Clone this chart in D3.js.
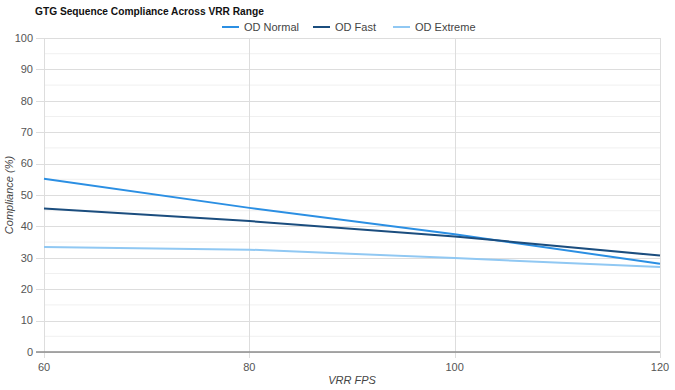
<!DOCTYPE html>
<html>
<head>
<meta charset="utf-8">
<script src="https://cdn.jsdelivr.net/npm/d3@7"></script>
<style>
  body { margin: 0; background: #fff; }
  text { font-family: "Liberation Sans", Arial, sans-serif; }
</style>
</head>
<body>
<svg id="chart" width="675" height="390"></svg>
<script>
var fps = [60, 80, 100, 120];
var odNormal = [55.2, 45.9, 37.5, 28.1];
var odFast = [45.7, 41.7, 36.8, 30.7];
var odExtreme = [33.4, 32.6, 29.9, 27.1];
var seriesNames = ["OD Normal", "OD Fast", "OD Extreme"];
var seriesColors = ["#2b8fe3", "#1b4d7e", "#90c8f3"];
var yTicks = d3.range(0, 101, 10);
var yMinor = d3.range(5, 100, 10);

var margin = { top: 38, right: 15, bottom: 38, left: 44 };
var width = 675, height = 390;

var svg = d3.select("#chart");

var x = d3.scaleLinear().domain([60, 120]).range([margin.left, width - margin.right]);
var y = d3.scaleLinear().domain([0, 100]).range([height - margin.bottom, margin.top]);

// minor grid
svg.append("g")
  .selectAll("line")
  .data(yMinor)
  .join("line")
  .attr("x1", x(60)).attr("x2", x(120))
  .attr("y1", function(d) { return y(d); })
  .attr("y2", function(d) { return y(d); })
  .attr("stroke", "#f0f0f0");

// major grid + tick stubs
svg.append("g")
  .selectAll("line")
  .data(yTicks)
  .join("line")
  .attr("x1", x(60) - 8).attr("x2", x(120))
  .attr("y1", function(d) { return Math.round(y(d)) + 0.5; })
  .attr("y2", function(d) { return Math.round(y(d)) + 0.5; })
  .attr("stroke", "#dddddd");

svg.append("g")
  .selectAll("line")
  .data(fps)
  .join("line")
  .attr("x1", function(d) { return Math.round(x(d)) + 0.5; })
  .attr("x2", function(d) { return Math.round(x(d)) + 0.5; })
  .attr("y1", y(100)).attr("y2", y(0) + 6)
  .attr("stroke", "#dddddd");

// baseline
svg.append("line")
  .attr("x1", x(60) - 8).attr("x2", x(120))
  .attr("y1", y(0)).attr("y2", y(0))
  .attr("stroke", "#8c8c8c").attr("stroke-width", 1.5);

// y labels
svg.append("g")
  .selectAll("text")
  .data(yTicks)
  .join("text")
  .attr("x", x(60) - 11)
  .attr("y", function(d) { return y(d); })
  .attr("dy", "0.35em")
  .attr("text-anchor", "end")
  .attr("font-size", 11)
  .attr("fill", "#555")
  .text(function(d) { return d; });

// x labels
svg.append("g")
  .selectAll("text")
  .data(fps)
  .join("text")
  .attr("x", function(d) { return x(d); })
  .attr("y", y(0) + 19)
  .attr("text-anchor", "middle")
  .attr("font-size", 11)
  .attr("fill", "#555")
  .text(function(d) { return d; });

svg.append("text")
  .attr("x", (x(60) + x(120)) / 2)
  .attr("y", 384)
  .attr("text-anchor", "middle")
  .attr("font-size", 11)
  .attr("font-style", "italic")
  .attr("fill", "#444")
  .text("VRR FPS");

svg.append("text")
  .attr("transform", "translate(13," + (y(50)) + ") rotate(-90)")
  .attr("text-anchor", "middle")
  .attr("font-size", 11)
  .attr("font-style", "italic")
  .attr("fill", "#444")
  .text("Compliance (%)");

svg.append("text")
  .attr("x", 35).attr("y", 15)
  .attr("font-size", 10.2)
  .attr("font-weight", "bold")
  .attr("fill", "#111")
  .text("GTG Sequence Compliance Across VRR Range");

// lines
var allSeries = [odNormal, odFast, odExtreme];
var line = d3.line()
  .x(function(d, i) { return x(fps[i]); })
  .y(function(d) { return y(d); });

allSeries.forEach(function(vals, k) {
  svg.append("path")
    .datum(vals)
    .attr("d", line)
    .attr("fill", "none")
    .attr("stroke", seriesColors[k])
    .attr("stroke-width", 2);
});

// legend
var legendX = [222, 313, 393];
var legend = svg.append("g");
seriesNames.forEach(function(name, k) {
  legend.append("line")
    .attr("x1", legendX[k]).attr("x2", legendX[k] + 17)
    .attr("y1", 27).attr("y2", 27)
    .attr("stroke", seriesColors[k]).attr("stroke-width", 2);
  legend.append("text")
    .attr("x", legendX[k] + 22).attr("y", 27)
    .attr("dy", "0.35em")
    .attr("font-size", 11)
    .attr("fill", "#444")
    .text(name);
});
</script>
</body>
</html>
